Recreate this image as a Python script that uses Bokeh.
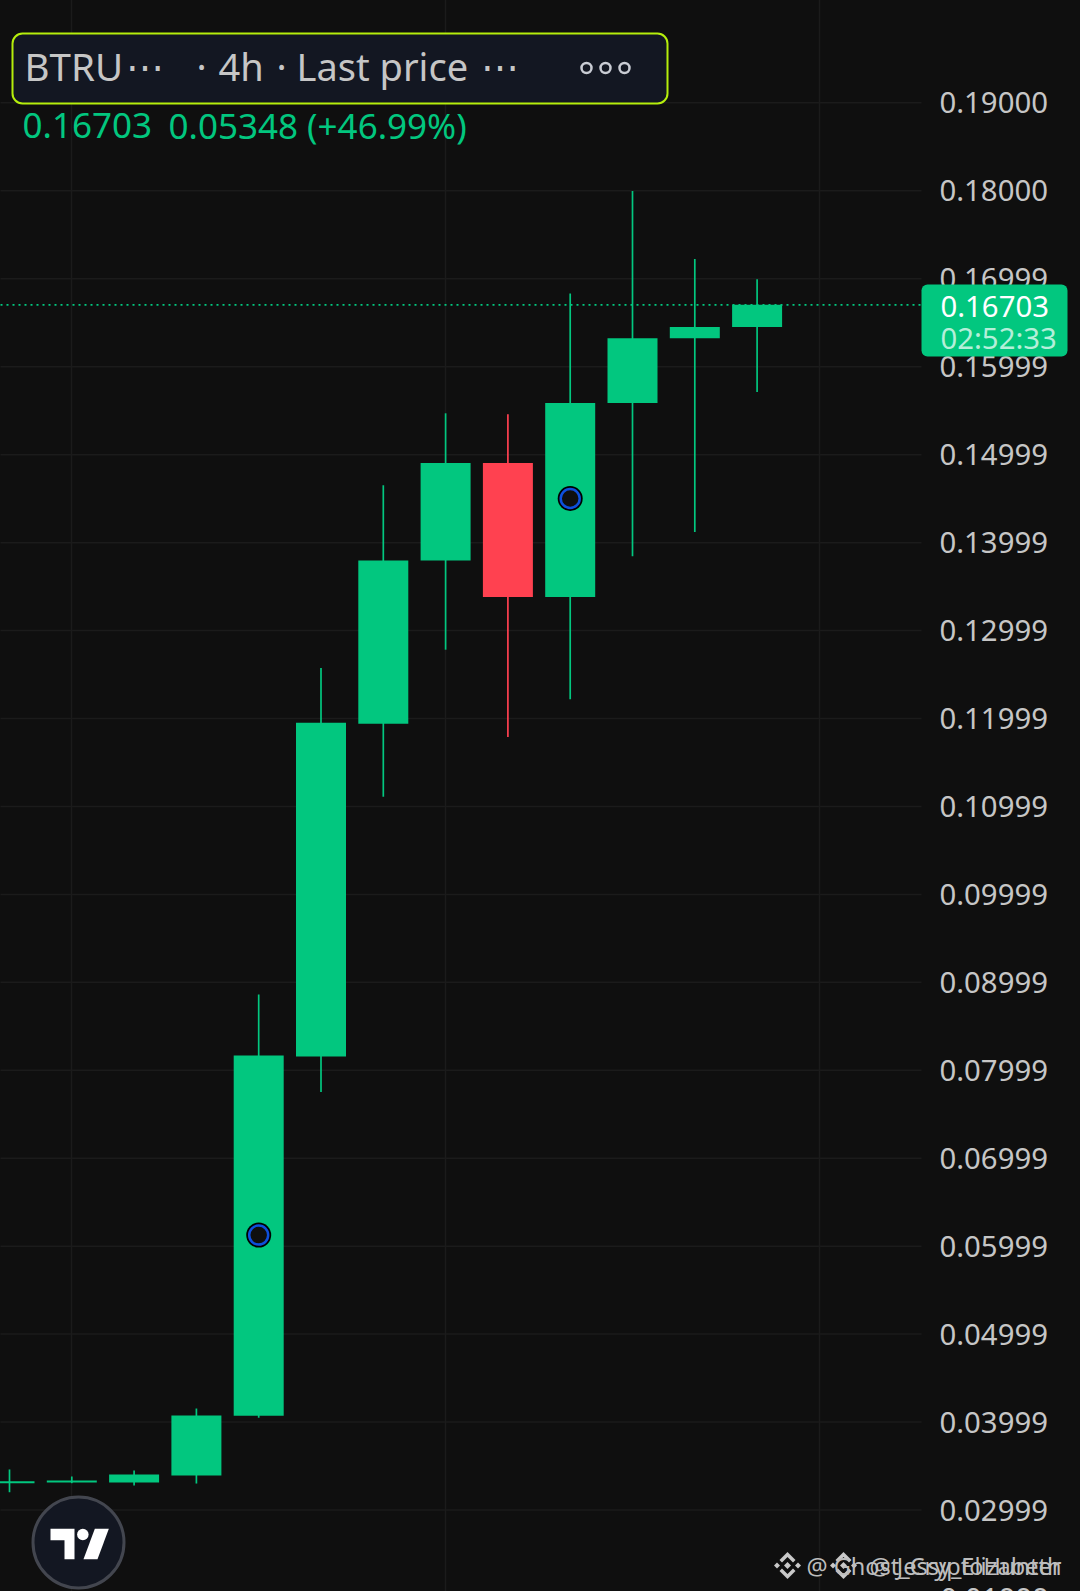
from bokeh.plotting import figure
from bokeh.embed import file_html
from bokeh.resources import INLINE
from bokeh.models import BoxAnnotation, Label, FixedTicker, ColumnDataSource

# ---------- data ----------
opens  = [0.03304, 0.03311, 0.03312, 0.03391, 0.04072, 0.08156, 0.11940, 0.13797, 0.14905, 0.13382, 0.15586, 0.16324, 0.16451]
closes = [0.03326, 0.03334, 0.03403, 0.04074, 0.08167, 0.11952, 0.13797, 0.14905, 0.13382, 0.15586, 0.16324, 0.16451, 0.16703]
highs  = [0.03460, 0.03380, 0.03448, 0.04153, 0.08860, 0.12575, 0.14651, 0.15470, 0.15459, 0.16832, 0.17997, 0.17224, 0.16993]
lows   = [0.03201, 0.03304, 0.03278, 0.03300, 0.04049, 0.07752, 0.11109, 0.12782, 0.11790, 0.12217, 0.13844, 0.14120, 0.15712]
tick_values = [0.19, 0.18, 0.16999, 0.15999, 0.14999, 0.13999, 0.12999, 0.11999, 0.10999,
               0.09999, 0.08999, 0.07999, 0.06999, 0.05999, 0.04999, 0.03999, 0.02999]
tick_labels = ["0.19000", "0.18000", "0.16999", "0.15999", "0.14999", "0.13999", "0.12999", "0.11999", "0.10999",
               "0.09999", "0.08999", "0.07999", "0.06999", "0.05999", "0.04999", "0.03999", "0.02999"]
vgrid_bars = [1, 7, 13]
signal_bars = [4, 9]
signal_prices = [0.06125, 0.14501]
last_price = 0.16703
countdown = "02:52:33"
change_text = "0.05348 (+46.99%)"

# ---------- layout / style ----------
W, H, AXIS_X, BLEED = 1080, 1591, 921, 2
BAR_PX, X0_PX = 62.3, 9.0
Y_REF_PX, Y_REF_P, PX_PER_P = 1509.5, 0.02999, 8794.0
BG, GRID, UP, DOWN = "#0f0f0f", "#1b1b1b", "#02c77f", "#ff4150"
TXT, PANEL, FONT = "#c6c6c6", "#131722", "Noto Sans"

def dx(px): return (px - X0_PX) / BAR_PX
def dy(py): return Y_REF_P + (Y_REF_PX - py) / PX_PER_P

p = figure(width=W + BLEED, height=H + BLEED, output_backend="svg", toolbar_location=None,
           x_range=(dx(-BLEED), dx(W)), y_range=(dy(H), dy(-BLEED)),
           x_axis_location=None, y_axis_location="right",
           background_fill_color=BG, border_fill_color=BG, outline_line_color=None,
           min_border=0,
           styles={"position": "absolute", "left": f"-{BLEED}px", "top": f"-{BLEED}px"})

ax = p.yaxis[0]
ax.fixed_location = dx(AXIS_X)
ax.ticker = FixedTicker(ticks=tick_values)
ax.major_label_overrides = {v: s for v, s in zip(tick_values, tick_labels)}
ax.axis_line_color = None
ax.major_tick_line_color = None
ax.minor_tick_line_color = None
ax.major_label_standoff = 12
ax.major_label_text_font = FONT
ax.major_label_text_font_size = "29.3px"
ax.major_label_text_color = TXT

p.ygrid[0].visible = False
p.xgrid[0].ticker = FixedTicker(ticks=vgrid_bars)
p.xgrid[0].grid_line_color = GRID
p.xgrid[0].grid_line_width = 1.5
p.segment([dx(0)] * len(tick_values), tick_values, [dx(AXIS_X)] * len(tick_values), tick_values,
          line_color=GRID, line_width=1.5, level="underlay")

idx = list(range(len(opens)))
colors = [UP if c >= o else DOWN for o, c in zip(opens, closes)]
src = ColumnDataSource(dict(x=idx, o=opens, c=closes, h=highs, l=lows, col=colors))
p.segment("x", "h", "x", "l", source=src, line_color="col", line_width=1.7)
p.vbar(x="x", width=50 / BAR_PX, top="c", bottom="o", source=src,
       fill_color="col", line_color=None)

p.scatter(signal_bars, signal_prices, size=25, marker="circle", fill_color="#000000", line_color=None)
p.scatter(signal_bars, signal_prices, size=19, marker="circle", fill_color=BG,
          line_color="#0e4fdc", line_width=2.5)

p.segment([dx(0)], [last_price], [dx(AXIS_X)], [last_price], line_color=UP,
          line_width=1.7, line_dash="2 4")

def box(l, r, t, b, fill=None, line=None, lw=2, radius=0):
    p.add_layout(BoxAnnotation(left=dx(l), right=dx(r), top=dy(t), bottom=dy(b),
                               fill_color=fill if fill else "#000000", fill_alpha=1 if fill else 0,
                               line_color=line if line else "#000000", line_alpha=1 if line else 0,
                               line_width=lw, border_radius=radius, level="overlay"))

def lab(x, y, text, size, color=TXT, align="left"):
    p.add_layout(Label(x=dx(x), y=dy(y), text=text, text_font=FONT, text_font_size=f"{size}px",
                       text_color=color, text_align=align, text_baseline="middle", level="overlay"))

# header
box(12, 667, 33, 103, PANEL, "#b5ee0c", 2, 10)
lab(24, 65, "BTRU", 38.5)
lab(125, 65, "⋯", 38)
lab(196, 65, "·", 38)
lab(218, 65, "4h", 38)
lab(276, 65, "·", 38)
lab(296, 65, "Last price", 38)
lab(480, 65, "⋯", 38)
for cx in (586, 605, 624):
    box(cx - 5, cx + 5, 62.5, 72.5, None, "#c9ccd4", 2.5, 5)

lab(22, 125, f"{last_price:.5f}", 35, UP)
lab(168, 125, change_text, 35, UP)

# last price badge
box(921, 1067, 284, 356, UP, None, 0, 6)
lab(940, 306, f"{last_price:.5f}", 29.3, "#ffffff")
lab(940, 337, countdown, 29.3, "#b4efd9")

# label cut by the bottom edge in the reference
lab(940, 1597.5, "0.01999", 29.3)

# TradingView mark
p.scatter([dx(78)], [dy(1542)], size=91, marker="circle", fill_color=PANEL,
          line_color="#43464f", line_width=3, level="overlay")
LX, LY = 0, 1380
def pt(x, y): return dx(LX + x / 3), dy(LY + y / 3)
def poly(points, color):
    xy = [pt(*q) for q in points]
    p.patch([a for a, _ in xy], [b for _, b in xy], fill_color=color, line_color=None, level="overlay")
poly([(150, 445), (222, 445), (222, 536), (192, 536), (192, 479), (150, 479)], "#ffffff")
poly([(283, 445), (325, 445), (291, 536), (249, 536)], "#ffffff")
p.scatter([dx(LX + 247 / 3)], [dy(LY + 462 / 3)], size=11.5, marker="circle",
          fill_color="#ffffff", line_color=None, level="overlay")

# Binance-style watermarks
def binance(cx, cy, color="#c9c9c9"):
    def shape(pts):
        xs = [dx(cx + a) for a, _ in pts]
        ys = [dy(cy + b) for _, b in pts]
        p.patch(xs, ys, fill_color=color, line_color=None, level="overlay")
    shape([(0, -3.5), (3.5, 0), (0, 3.5), (-3.5, 0)])
    shape([(-13.5, 0), (-10.5, -3), (-7.5, 0), (-10.5, 3)])
    shape([(13.5, 0), (10.5, -3), (7.5, 0), (10.5, 3)])
    shape([(0, -13.5), (8, -5.5), (5.5, -3), (0, -8.5), (-5.5, -3), (-8, -5.5)])
    shape([(0, 13.5), (8, 5.5), (5.5, 3), (0, 8.5), (-5.5, 3), (-8, 5.5)])
binance(787, 1565)
binance(843, 1565)
lab(806, 1565, "@ Ghost_CryptoHunter", 23.5, "#bdbdbd")
lab(869, 1565, "@ Jessy_Elizabeth", 23.5, "#bdbdbd")

open("out.html", "w").write(file_html(p, INLINE))
